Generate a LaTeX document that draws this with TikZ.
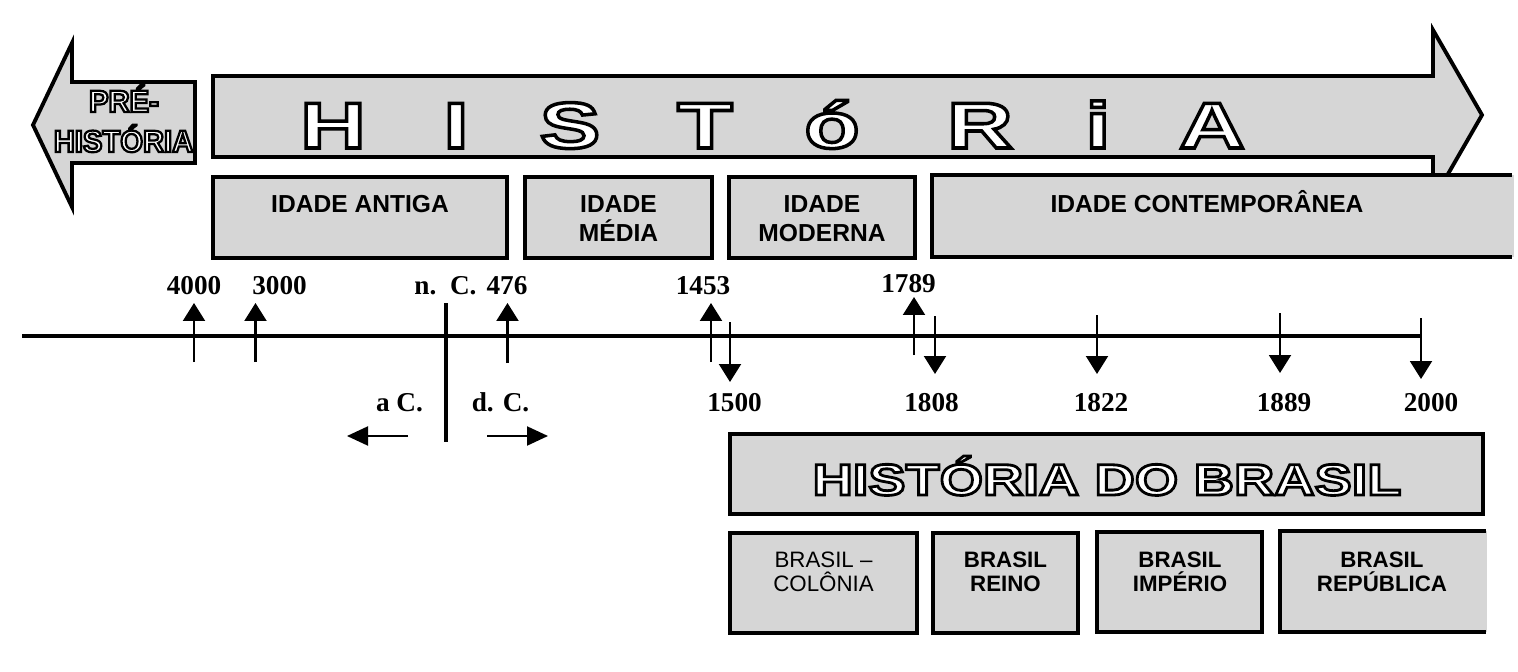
\documentclass[tikz,border=0pt]{standalone}
\usepackage{fontspec}
\setmainfont{Liberation Sans}
\newfontfamily\numfont{Liberation Serif}
\newfontfamily\widefont[FakeStretch=1.4]{Liberation Sans}
\newfontfamily\midfont[FakeStretch=1.27]{Liberation Sans}
\newfontfamily\narfont[FakeStretch=0.95]{Liberation Sans}
\usetikzlibrary{arrows.meta}
\definecolor{halftone}{gray}{0.84}
% outlined text: white fill, black stroke (PDF text render mode 2)
\newcommand{\outl}[2]{\special{pdf:literal direct 1 g 0 G #1 w 2 Tr}#2\special{pdf:literal direct 0 Tr 0 g 0 G 1 w}}
\tikzset{
  panel/.style={draw=black, line width=2.2pt, fill=halftone},
  boxnode/.style={panel, rectangle, inner sep=0pt},
  lab/.style={font=\fontsize{14}{16.5}\selectfont\bfseries, anchor=base, inner sep=0pt},
  blab/.style={font=\fontsize{12.7}{14.2}\selectfont\bfseries, anchor=base, inner sep=0pt},
  rlab/.style={font=\fontsize{12.7}{14.2}\selectfont, anchor=base, inner sep=0pt},
  year/.style={font=\numfont\fontsize{15.5}{18}\selectfont\bfseries, anchor=base, inner sep=0pt},
  tick/.style={line width=1.2pt, -{Triangle[width=0.44cm,length=0.36cm]}},
  side/.style={line width=1.2pt, -{Triangle[width=0.38cm,length=0.42cm]}},
  big/.style={font=\widefont\fontsize{37}{37}\selectfont\bfseries, anchor=base, inner sep=0pt},
  mid/.style={font=\midfont\fontsize{25}{25}\selectfont\bfseries, anchor=base, inner sep=0pt},
  small/.style={font=\narfont\fontsize{17.5}{17.5}\selectfont\bfseries, anchor=base, inner sep=0pt},
}
\begin{document}
\begin{tikzpicture}[x=0.02cm,y=-0.02cm]
\useasboundingbox (0,0) rectangle (1518,672);

% Pre-historia arrow
\draw[panel, line join=miter] (195,82) -- (72,82) -- (72,43) -- (33,125) -- (72,207) -- (72,163) -- (195,163) -- cycle;
\node[small] (pre1) at (124,112) {\outl{1.3}{PRÉ-}};
\node[small] (pre2) at (123.5,152) {\outl{1.3}{HISTÓRIA}};

% Historia arrow
\draw[panel, line join=miter] (213,76) -- (1433,76) -- (1433,30) -- (1482,115) -- (1433,200) -- (1433,157) -- (213,157) -- cycle;
\node[big] (hH) at (333,148) {\outl{2}{H}};
\node[big] (hI) at (456,148) {\outl{2}{I}};
\node[big] (hS) at (570,148) {\outl{2}{S}};
\node[big] (hT) at (705,148) {\outl{2}{T}};
\node[big] (hO) at (832,148) {\outl{2}{ó}};
\node[big] (hR) at (980,148) {\outl{2}{R}};
\node[big] (hi) at (1098,148) {\outl{2}{i}};
\node[big] (hA) at (1212,148) {\outl{2}{A}};

% Idade boxes
\node[boxnode, minimum width=5.88cm, minimum height=1.62cm] (antiga) at (360,217.5) {};
\node[boxnode, minimum width=3.74cm, minimum height=1.62cm] (media) at (618.5,217.5) {};
\node[boxnode, minimum width=3.72cm, minimum height=1.62cm] (moderna) at (822,217.5) {};
\fill[halftone] (932,175) rectangle (1514,257);
\draw[line width=2.2pt] (1512,175) -- (932,175) -- (932,257) -- (1512,257);

\node[lab] (antigaT) at (360,213) {IDADE ANTIGA};
\node[lab] (mediaT1) at (618.5,213) {IDADE};
\node[lab] (mediaT2) at (618.5,242) {MÉDIA};
\node[lab] (modernaT1) at (822,213) {IDADE};
\node[lab] (modernaT2) at (822,242) {MODERNA};
\node[lab] (contT) at (1207,213) {IDADE CONTEMPORÂNEA};

% Timeline
\coordinate (L0) at (22,336);
\coordinate (L1) at (1421,336);
\draw[line width=2.8pt] (L0) -- (L1);
\coordinate (nc0) at (446,303);
\coordinate (nc1) at (446,442);
\draw[line width=2.8pt] (nc0) -- (nc1);

% up arrows
\foreach \n/\x/\a/\b in {u4000/194/362/303, u3000/255.5/362/303, u476/507.5/363/303, u1453/711/362/303, u1789/914/355/297}{
  \coordinate (\n s) at (\x,\a);
  \coordinate (\n e) at (\x,\b);
  \draw[tick] (\n s) -- (\n e);
}
% down arrows
\foreach \n/\x/\a/\b in {d1500/730/322/382, d1808/935/316/374, d1822/1097/315/374, d1889/1280/313/373, d2000/1421/318/379}{
  \coordinate (\n s) at (\x,\a);
  \coordinate (\n e) at (\x,\b);
  \draw[tick] (\n s) -- (\n e);
}

% year labels
\node[year] (y4000) at (194,295) {4000};
\node[year] (y3000) at (279.5,295) {3000};
\node[year] (ync) at (445.5,295) {n.\ \ C.};
\node[year] (y476) at (507,295) {476};
\node[year] (y1453) at (703,295) {1453};
\node[year] (y1789) at (908.5,293) {1789};
\node[year] (y1500) at (734.5,411) {1500};
\node[year] (y1808) at (931.5,411) {1808};
\node[year] (y1822) at (1101,411) {1822};
\node[year] (y1889) at (1284,411) {1889};
\node[year] (y2000) at (1431,411) {2000};
\node[year] (aC) at (399.5,411) {a C.};
\node[year] (dC) at (500.5,411) {d. C.};

\coordinate (aCs) at (408,436);
\coordinate (aCe) at (347,436);
\coordinate (dCs) at (487,436);
\coordinate (dCe) at (548,436);
\draw[side] (aCs) -- (aCe);
\draw[side] (dCs) -- (dCe);

% Historia do Brasil
\node[boxnode, minimum width=15.06cm, minimum height=1.6cm] (hbr) at (1106.5,474) {};
\node[mid] (hbrT) at (1107,495) {\outl{1.6}{HISTÓRIA DO BRASIL}};

\node[boxnode, minimum width=3.74cm, minimum height=2cm] (colonia) at (823.5,583) {};
\node[boxnode, minimum width=2.9cm, minimum height=2cm] (reino) at (1005.5,583) {};
\node[boxnode, minimum width=3.3cm, minimum height=2cm] (imperio) at (1179.5,582) {};
\fill[halftone] (1280,531) rectangle (1487,632);
\draw[line width=2.2pt] (1486,531) -- (1280,531) -- (1280,632) -- (1486,632);

\node[rlab] (colT1) at (823.5,567) {BRASIL –};
\node[rlab] (colT2) at (823.5,591) {COLÔNIA};
\node[blab] (reiT1) at (1005.5,567) {BRASIL};
\node[blab] (reiT2) at (1005.5,591) {REINO};
\node[blab] (impT1) at (1180,567) {BRASIL};
\node[blab] (impT2) at (1180,591) {IMPÉRIO};
\node[blab] (repT1) at (1382,567) {BRASIL};
\node[blab] (repT2) at (1382,591) {REPÚBLICA};
\end{tikzpicture}
\end{document}
